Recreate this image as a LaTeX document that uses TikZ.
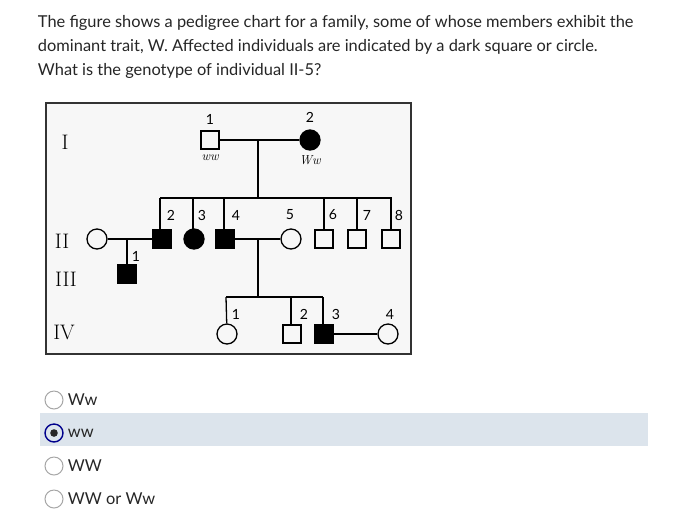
\documentclass[tikz,border=0pt]{standalone}
\usepackage{fontspec}
\setmainfont{Lato}
\definecolor{band}{HTML}{DCE4EC}
\begin{document}
\begin{tikzpicture}[x=1pt,y=-1pt,line width=1.3pt,
 sq/.style={draw,minimum size=18pt,inner sep=0pt},
 ci/.style={draw,circle,minimum size=20pt,inner sep=0pt},
 aff/.style={fill=black},
 num/.style={font=\fontsize{14}{14}\selectfont},
 gen/.style={font=\fontfamily{lmr}\fontencoding{TU}\fontsize{21}{21}\selectfont},
 qt/.style={anchor=west,font=\fontsize{16.4}{19}\selectfont,text=black!85},
 radio/.style={draw=gray!70,circle,line width=1pt,minimum size=18pt,inner sep=0pt}]
\useasboundingbox (0,0) rectangle (700,515);
\fill[white] (0,0) rectangle (700,515);
\node[qt] (q1) at (34,23) {The figure shows a pedigree chart for a family, some of whose members exhibit the};
\node[qt] (q2) at (34,47) {dominant trait, W. Affected individuals are indicated by a dark square or circle.};
\node[qt] (q3) at (34,71) {What is the genotype of individual II-5?};
\fill[gray!6] (46,103) rectangle (411,354);
\draw[line width=1.6pt,black!80] (46,103) rectangle (411,354);
% generation labels
\node[gen] (gI) at (65,142) {I};
\node[gen] (gII) at (62,241) {II};
\node[gen] (gIII) at (66,279) {III};
\node[gen] (gIV) at (64,332) {IV};
% Gen I
\node[sq] (i1) at (210,140) {};
\node[ci,aff] (i2) at (310,140) {};
\node[num] at (210,119) {1};
\node[num] at (310,117) {2};
\node[font=\fontfamily{lmr}\fontencoding{TU}\itshape\fontsize{13}{13}\selectfont] at (210,158) {ww};
\node[font=\fontfamily{lmr}\fontencoding{TU}\itshape\fontsize{13}{13}\selectfont] at (310,160) {Ww};
\draw (i1) -- (i2);
\coordinate (m1) at (258,140);
\coordinate (s1) at (258,198);
\draw (m1) -- (s1);
\draw (160,198) -- (392,198);
% Gen II
\node[ci] (ii0) at (97,239) {};
\node[sq,aff] (ii2) at (162,239) {};
\node[ci,aff] (ii3) at (194,239) {};
\node[sq,aff] (ii4) at (225,239) {};
\node[ci] (ii5) at (291,239) {};
\node[sq] (ii6) at (324,239) {};
\node[sq] (ii7) at (357,239) {};
\node[sq] (ii8) at (391,239) {};
\foreach \n/\x in {2/160,3/193,4/224,6/324,7/357,8/391}{\draw (\x,198) -- (\x,230);}
\foreach \t/\x in {2/171,3/202,4/236,5/290,6/333,7/367,8/399}{\node[num] at (\x,215) {\t};}
\draw (ii0) -- (ii2);
\draw (ii4) -- (ii5);
% Gen III
\node[sq,aff] (iii1) at (127,274) {};
\draw (127,239) -- (iii1);
\node[num] at (136,256) {1};
% Gen IV
\draw (258,239) -- (258,297);
\draw (226,297) -- (323,297);
\node[ci] (iv1) at (227,334) {};
\node[sq] (iv2) at (292,334) {};
\node[sq,aff] (iv3) at (324,334) {};
\node[ci] (iv4) at (388,334) {};
\draw (226,297) -- (iv1);
\draw (291,297) -- (291,325);
\draw (323,297) -- (323,325);
\draw (iv3) -- (iv4);
\foreach \t/\x in {1/236,2/304,3/336,4/390}{\node[num] at (\x,314) {\t};}
% options
\fill[band] (40,413) rectangle (648,446);
\node[radio] (r1) at (54,400) {};
\node[radio,draw=blue!55!black,line width=1.4pt] (r2) at (54,433) {};
\fill[black!85] (r2) circle (3.8pt);
\node[radio] (r3) at (54,466) {};
\node[radio] (r4) at (54,499) {};
\node[qt] at (64,400) {Ww};
\node[qt] at (64,433) {ww};
\node[qt] at (64,466) {WW};
\node[qt] at (64,499) {WW or Ww};
\end{tikzpicture}
\end{document}
